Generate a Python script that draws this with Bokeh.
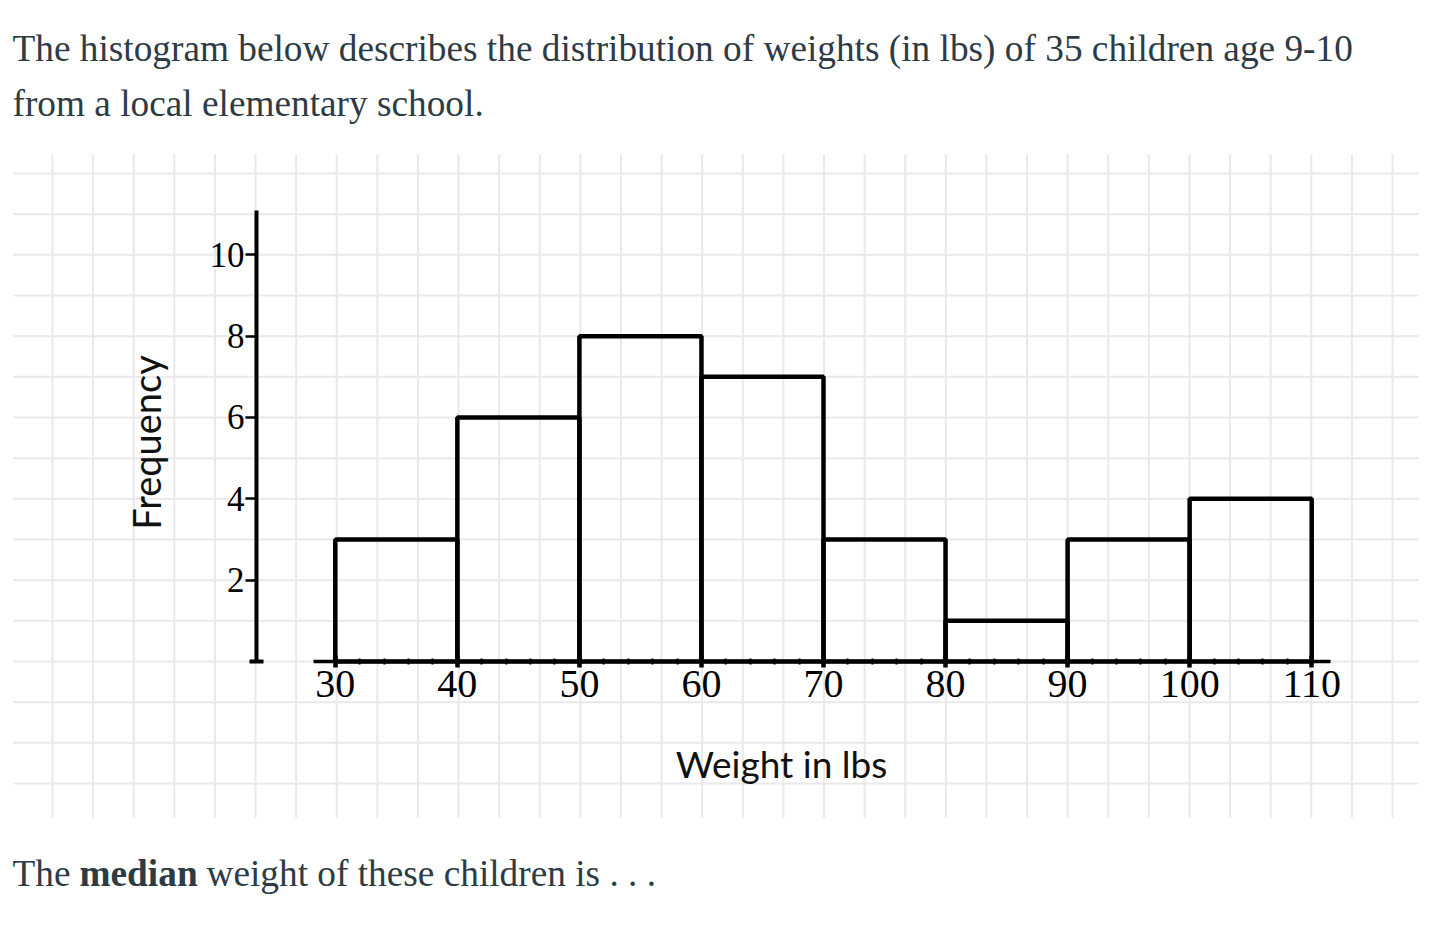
import numpy as np
from bokeh.plotting import figure
from bokeh.models import LinearAxis, FixedTicker, Label, Range1d
from bokeh.embed import file_html
from bokeh.resources import INLINE

# ---- data ----
bin_edges = [30, 40, 50, 60, 70, 80, 90, 100, 110]
frequencies = [3, 6, 8, 7, 3, 1, 3, 4]
x_ticks = [30, 40, 50, 60, 70, 80, 90, 100, 110]
x_minor = list(range(30, 111, 2))
y_ticks = [2, 4, 6, 8, 10]

title_1 = "The histogram below describes the distribution of weights (in lbs) of 35 children age 9-10"
title_2 = "from a local elementary school."
q_pre, q_bold, q_post = "The ", "median", " weight of these children is . . ."
x_label = "Weight in lbs"
y_label = "Frequency"

# ---- page geometry (screen px -> data) ----
W, H = 1426, 930
PX_PER_LB, X_REF_PX, X_REF_LB = 12.205, 823.0, 70.0
PX_PER_F, Y0_PX = 40.67, 661.0
OFF = 0  # where the figure sits on the page


def lb(sx):
    return X_REF_LB + (sx - X_REF_PX) / PX_PER_LB


def fq(sy):
    return (Y0_PX - sy) / PX_PER_F


p = figure(width=W, height=H, x_range=Range1d(lb(OFF), lb(OFF + W)),
           y_range=Range1d(fq(OFF + H), fq(OFF)), output_backend="svg",
           toolbar_location=None, x_axis_type=None, y_axis_type=None,
           min_border=0, outline_line_color=None,
           background_fill_color="white", border_fill_color="white")

# graph paper
grid_col = "#e9e9e9"
vx = [lb(52 + k * 40.606) for k in range(34)]
p.segment(x0=vx, y0=fq(154), x1=vx, y1=fq(817), line_color=grid_col, line_width=2)
hy = list(range(-3, 13))
p.segment(x0=lb(13), y0=hy, x1=lb(1418), y1=hy, line_color=grid_col, line_width=2)

# bars
p.quad(left=bin_edges[:-1], right=bin_edges[1:], top=frequencies, bottom=0,
       fill_color=None, line_color="black", line_width=4.5)

# x axis
xa = LinearAxis(fixed_location=0,
                ticker=FixedTicker(ticks=x_ticks, minor_ticks=x_minor),
                bounds=(lb(313), lb(1330)))
xa.axis_line_width = 3.5
xa.axis_line_color = "black"
xa.major_tick_in = 6
xa.major_tick_out = 6
xa.major_tick_line_width = 4.5
xa.minor_tick_in = 3
xa.minor_tick_out = 3
xa.minor_tick_line_width = 2
xa.major_label_text_font = "Liberation Serif"
xa.major_label_text_font_size = "40px"
xa.major_label_text_color = "black"
xa.major_label_standoff = 3
p.add_layout(xa, "below")

# y axis
ya = LinearAxis(fixed_location=lb(256), ticker=FixedTicker(ticks=y_ticks),
                bounds=(0, fq(210)))
ya.axis_line_width = 4
ya.axis_line_color = "black"
ya.major_tick_in = 0
ya.major_tick_out = 11
ya.major_tick_line_width = 2.5
ya.minor_tick_line_color = None
ya.major_label_text_font = "Liberation Serif"
ya.major_label_text_font_size = "35px"
ya.major_label_text_color = "black"
ya.major_label_standoff = 1
p.add_layout(ya, "left")

# foot of the y axis
p.segment(x0=lb(249), y0=0, x1=lb(263), y1=0, line_color="black", line_width=4)

# axis titles
hand = "Lato"
p.add_layout(Label(x=lb(781), y=fq(763), text=x_label, text_align="center",
                   text_baseline="alphabetic", text_font=hand,
                   text_font_size="37px", text_color="#111111"))
p.add_layout(Label(x=lb(145), y=fq(442), text=y_label, text_align="center",
                   text_baseline="alphabetic", angle=np.pi / 2, text_font=hand,
                   text_font_size="38px", text_color="#111111"))

# page text
txt_col = "#2d3b45"
serif = "Liberation Serif"
for t, sx, sy, style in [(title_1, 12, 48, "normal"), (title_2, 12, 103, "normal"),
                         (q_pre, 12, 873, "normal"), (q_bold, 79, 873, "bold"),
                         (q_post, 206, 873, "normal")]:
    p.add_layout(Label(x=lb(sx), y=fq(sy), text=t, text_align="left",
                       text_baseline="alphabetic", text_font=serif,
                       text_font_size="37.3px", text_font_style=style,
                       text_color=txt_col))

open("out.html", "w").write(file_html(p, INLINE))
